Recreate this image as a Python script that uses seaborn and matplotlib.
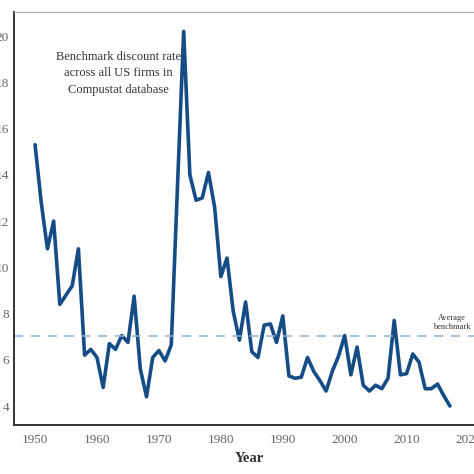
import pandas as pd
import matplotlib
matplotlib.use("Agg")
import matplotlib.pyplot as plt
import seaborn as sns

# Benchmark discount rate by year
years = list(range(1950, 2018))
rates = [15.3, 12.8, 10.8, 12.0, 8.4, 8.8, 9.2, 10.8, 6.2, 6.45,
         6.1, 4.8, 6.7, 6.45, 7.05, 6.75, 8.75, 5.6, 4.4, 6.1,
         6.4, 5.95, 6.65, 13.5, 20.2, 14.0, 12.9, 13.0, 14.1, 12.6,
         9.6, 10.4, 8.1, 6.85, 8.5, 6.35, 6.1, 7.5, 7.55, 6.75,
         7.9, 5.3, 5.2, 5.25, 6.1, 5.5, 5.1, 4.65, 5.5, 6.15,
         7.05, 5.35, 6.55, 4.9, 4.65, 4.9, 4.75, 5.2, 7.7, 5.35,
         5.4, 6.25, 5.9, 4.75, 4.75, 4.95, 4.45, 4.0]
average_benchmark = 7.05

df = pd.DataFrame({"Year": years, "Rate": rates})

sns.set_style("white")
plt.rcParams['font.family'] = ['Liberation Serif', 'DejaVu Serif']

fig = plt.figure(figsize=(4.74, 4.74), dpi=100)
ax = fig.add_axes([14 / 474, 1 - 425 / 474, 470 / 474, 413 / 474])

sns.lineplot(data=df, x="Year", y="Rate", ax=ax, color="#154c86", linewidth=2.6)
ax.axhline(average_benchmark, color="#8fb0cc", linestyle=(0, (6, 5)), linewidth=1.1)

ax.set_xlim(1946.6, 2022.5)
ax.set_ylim(3.18, 21.04)
ax.set_xticks(range(1950, 2030, 10))
ax.set_yticks(range(4, 22, 2))
ax.tick_params(axis="both", labelsize=9.5, labelcolor="#666666", color="#333333",
               direction="out", length=3, width=1)
ax.tick_params(axis="y", length=0)
ax.set_xlabel("Year", fontsize=10.5, fontweight="bold", color="#333333")
ax.set_ylabel("")

for side in ["left", "bottom"]:
    ax.spines[side].set_color("#333333")
    ax.spines[side].set_linewidth(1.4)
ax.spines["top"].set_color("#aaaaaa")
ax.spines["top"].set_linewidth(0.8)
ax.spines["right"].set_visible(False)

ax.text(1963.5, 18.4, "Benchmark discount rate\nacross all US firms in\nCompustat database",
        ha="center", va="center", fontsize=9, color="#333333", linespacing=1.5)
ax.text(2017.3, 7.6, "Average\nbenchmark", ha="center", va="center",
        fontsize=6, color="#333333")

plt.savefig("out.png", dpi=100)
